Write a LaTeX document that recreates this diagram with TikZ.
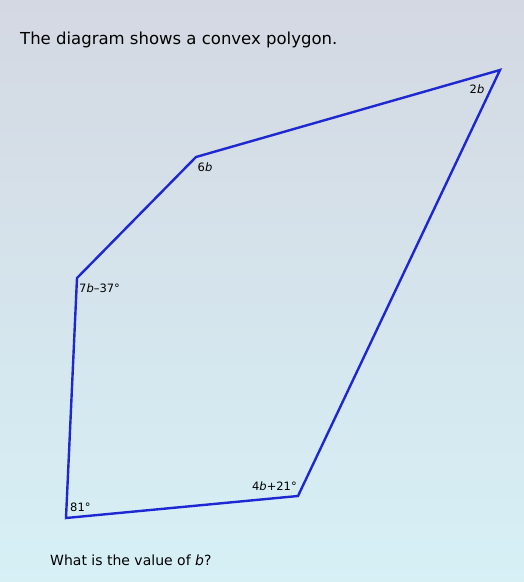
\documentclass[tikz,border=0pt]{standalone}
\usepackage{fontspec}
\setmainfont{DejaVu Sans}
\newcommand{\bvar}{\textit{b}}
\begin{document}
\begin{tikzpicture}[x=1pt,y=-1pt,
		side/.style={draw=polyblue, line width=2.4pt, line join=miter},
		ang/.style={font=\fontsize{11.5}{12}\selectfont, inner sep=0pt},
		txt/.style={font=\fontsize{14}{16}\selectfont, inner sep=0pt, anchor=west}]
			\definecolor{polyblue}{RGB}{30,40,210}
			\useasboundingbox (0,0) rectangle (524,582);
			\shade [top color={rgb,255:red,212;green,216;blue,226}, bottom color={rgb,255:red,214;green,240;blue,246}] (0,0) rectangle (524,582);
			\coordinate (tr) at (500,70);
			\coordinate (tp) at (196,157);
			\coordinate (lf) at (77,278);
			\coordinate (bl) at (66,518);
			\coordinate (br) at (298,496);
			\draw [side] (tp) -- (tr) -- (br) -- (bl) -- (lf) -- cycle;
			\node [txt, font=\fontsize{16.5}{18}\selectfont] (title) at (20,40) {The diagram shows a convex polygon.};
			\node [ang] (a1) at (477,89) {2\bvar};
			\node [ang] (a2) at (205,167) {6\bvar};
			\node [ang, anchor=west] (a3) at (79,288) {7\bvar–37°};
			\node [ang, anchor=east] (a4) at (297,486) {4\bvar+21°};
			\node [ang, anchor=west] (a5) at (70,507) {81°};
			\node [txt] (ask) at (50,560) {What is the value of \bvar?};
		\end{tikzpicture}
\end{document}
